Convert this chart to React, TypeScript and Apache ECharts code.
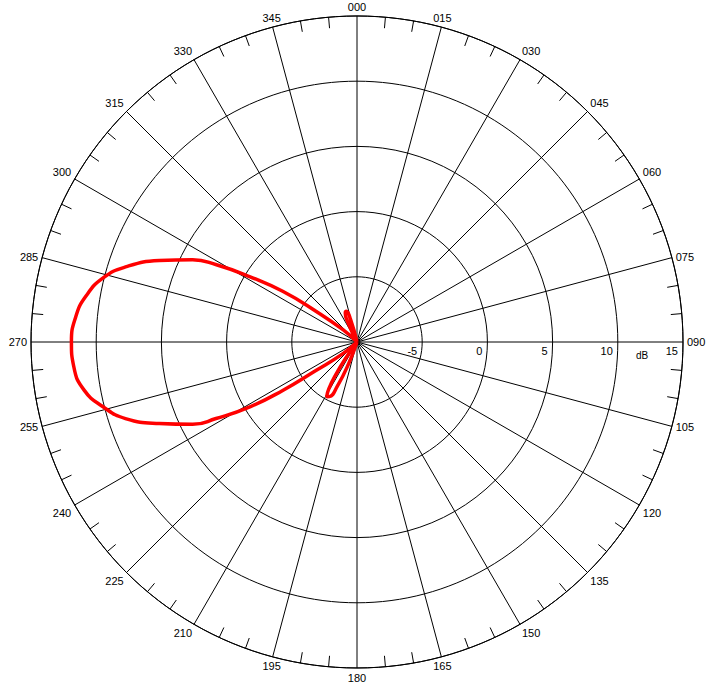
import React, { useEffect, useRef } from 'react';
import * as echarts from 'echarts';

// 方位角 (compass, 0 = top, clockwise) and gain in dB
const bearings = [
  195, 199, 201, 204, 207, 209, 211, 213, 215, 217,
  228, 230.5, 235.2, 236.9, 238.8, 241.5, 243.4, 247.6, 251.7, 255.7, 260, 265, 270,
  275.2, 279.5, 284.1, 288.1, 292.4, 296.6, 298.8, 301.4, 304.3, 306.9, 311.2, 314,
  332, 335, 338, 341, 344, 347,
];
const gains = [
  -10, -10, -8.3, -6.3, -5.3, -5.2, -5.8, -7.0, -8.6, -10,
  -10, -8.6, -6.2, -3.2, -0.4, 2.3, 4.1, 6.4, 8.7, 10.1, 11.25, 11.8, 11.9,
  11.65, 11.1, 10.1, 8.6, 6.4, 4.1, 2.3, -0.4, -3.1, -6.1, -8.6, -10,
  -10, -8.4, -7.6, -7.5, -8.2, -10,
];

const dbMin = -10;
const dbMax = 15;
const dbStep = 5;
const spokeStep = 15;

// axis starts at the right side (bearing 090), so shift by 90
const toAxis = (b: number) => ((b - 90) % 360 + 360) % 360;
const fmtBearing = (v: number) => String((Math.round(v) + 90) % 360).padStart(3, '0');

export default function App() {
  const chartRef = useRef<HTMLDivElement>(null);

  useEffect(() => {
    if (!chartRef.current) return;
    const chart = echarts.init(chartRef.current, null, { renderer: 'svg' });

    const points = bearings.map((b, i) => [gains[i], toAxis(b)]);

    const font = 'Liberation Sans, Arial, sans-serif';
    const option = {
      animation: false,
      polar: {
        center: [357, 342],
        radius: 326,
      },
      angleAxis: {
        type: 'value',
        min: 0,
        max: 360,
        interval: spokeStep,
        startAngle: 0,
        clockwise: true,
        axisLine: { show: true, lineStyle: { color: '#000', width: 1 } },
        axisTick: { show: false, inside: true },
        minorTick: { show: true, splitNumber: 3, length: 11, lineStyle: { color: '#000', width: 1 } },
        axisLabel: {
          margin: 4,
          color: '#000',
          fontSize: 11,
          fontFamily: font,
          formatter: fmtBearing,
        },
        splitLine: { show: true, lineStyle: { color: '#000', width: 1 } },
      },
      radiusAxis: {
        type: 'value',
        min: dbMin,
        max: dbMax,
        interval: dbStep,
        axisLine: { show: false },
        axisTick: { show: false },
        splitLine: { show: true, lineStyle: { color: '#000', width: 1 } },
        axisLabel: {
          margin: -3,
          align: 'right',
          verticalAlign: 'top',
          padding: [0, 5, 0, 0],
          color: '#000',
          fontSize: 11,
          fontFamily: font,
          formatter: (v: number) => (v === dbMin ? '' : String(v)),
        },
        name: 'dB',
        nameLocation: 'end',
        nameGap: -41,
        nameTextStyle: {
          color: '#000',
          fontSize: 10,
          fontFamily: font,
          align: 'center',
          verticalAlign: 'top',
          padding: [8, 0, 0, 0],
        },
      },
      series: [
        {
          type: 'line',
          coordinateSystem: 'polar',
          data: points,
          symbol: 'none',
          smooth: 0.5,
          lineStyle: { color: '#ff0000', width: 3.5 },
          z: 10,
        },
      ],
    };
    chart.setOption(option);

    return () => {
      chart.dispose();
    };
  }, []);

  return (
    <div style={{ position: 'absolute', left: 0, top: 0, width: 715, height: 691, background: '#fff' }}>
      <div ref={chartRef} style={{ width: '100%', height: '100%' }} />
    </div>
  );
}
